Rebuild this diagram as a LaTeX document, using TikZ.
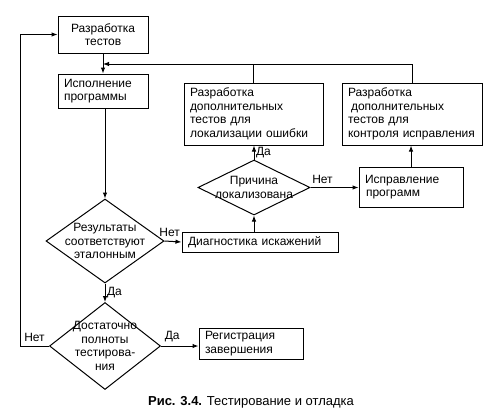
\documentclass[tikz,border=0pt]{standalone}
\usepackage{fontspec}
\setmainfont{Liberation Sans}
\usetikzlibrary{shapes.geometric,arrows.meta}
\begin{document}
\begin{tikzpicture}[>={Latex[length=6pt,width=4.5pt]}, x=1pt, y=-1pt, line width=1pt,
  font=\fontsize{12}{13.5}\selectfont,
  blk/.style={draw, rectangle, inner xsep=6pt, inner ysep=2pt, align=left},
  dia/.style={draw, diamond, inner sep=0pt},
  ans/.style={inner sep=1.5pt}]
\useasboundingbox (0,0) rectangle (500,418);
% blocks
\node[blk, align=center, text width=78pt, minimum height=37pt] (tst) at (103,34.5) {Разработка\\тестов};
\node[blk, text width=78pt, minimum height=34pt] (exe) at (103,91) {Исполнение\\программы};
\node[blk, text width=127pt, minimum height=62pt] (lok) at (253.5,114) {Разработка\\дополнительных\\тестов для\\локализации ошибки};
\node[blk, text width=128pt, minimum height=62pt] (ctl) at (412,114) {Разработка\\\hspace*{3pt}дополнительных\\тестов для\\контроля исправления};
\node[blk, text width=92pt, minimum height=40pt] (fix) at (411,187) {Исправление\\\hspace*{1pt}программ};
\node[blk, text width=144pt, minimum height=20pt] (diag) at (260,242) {Диагностика искажений};
\node[blk, text width=92pt, minimum height=31pt] (reg) at (251,343.5) {Регистрация\\завершения};
% decisions
\node[dia, minimum width=118pt, minimum height=84pt,
  label={[align=center]center:Результаты\\соответствуют\\эталонным}] (res) at (105,241) {};
\node[dia, minimum width=111pt, minimum height=87pt,
  label={[align=center]center:Достаточно\\полноты\\тестирова-\\ния}] (full) at (105,346) {};
\node[dia, minimum width=112pt, minimum height=55pt,
  label={[align=center]center:Причина\\локализована}] (cause) at (254,187.5) {};
% connectors
\coordinate (fb) at (103,64);
\draw[->] (tst) -- (exe);
\draw[->] (exe.south -| res) -- (res.north);
\draw[->] (res.east) -- node[ans, above=3pt, pos=.3]{Нет} (diag.west);
\draw[->] (res.south) -- node[ans, right]{Да} (full.north);
\draw[->] (full.east) -- node[ans, above=2pt, pos=.3]{Да} (full.east -| reg.west);
\draw[->] (full.west) -- node[ans, above=2pt]{Нет} ++(-29,0) |- (tst.west);
\draw[->] (diag.north -| cause) -- (cause.south);
\draw[->] (cause.north) -- node[ans, right]{Да} (cause.north |- lok.south);
\draw[->] (cause.east) -- node[ans, above=2pt, pos=.25]{Нет} (cause.east -| fix.west);
\draw[->] (fix.north) -- (fix.north |- ctl.south);
\draw (lok.north) -- (lok.north |- fb);
\draw[->] (ctl.north) |- (fb);
% caption
\node[font=\fontsize{13}{15}\selectfont] (cap) at (251,402) {\textbf{Рис. 3.4.} Тестирование и отладка};
\end{tikzpicture}
\end{document}
